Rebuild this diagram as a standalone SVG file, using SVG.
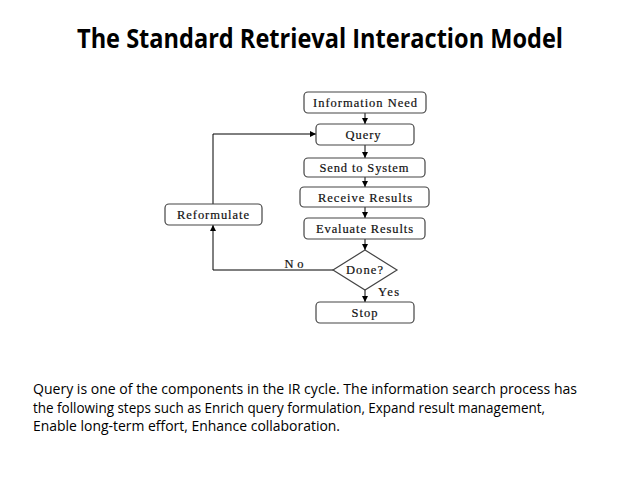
<svg xmlns="http://www.w3.org/2000/svg" width="638" height="478" viewBox="0 0 638 478">
<defs>
<marker id="ah" viewBox="0 0 10 10" refX="10" refY="5" markerWidth="6" markerHeight="6" orient="auto" markerUnits="userSpaceOnUse">
<path d="M0,0 L10,5 L0,10 z" fill="#000"/>
</marker>
<style>
.box{fill:#fff;stroke:#444;stroke-width:1.2}
.lbl{font-family:"Liberation Serif","DejaVu Serif",serif;font-size:12.5px;fill:#111;stroke:#111;stroke-width:0.2;text-anchor:middle}
.edge{fill:none;stroke:#000;stroke-width:1}
.title{font-family:"Open Sans","Liberation Sans",sans-serif;font-weight:bold;font-size:26px;fill:#000}
.body{font-family:"Open Sans","Liberation Sans",sans-serif;font-size:14.5px;fill:#000}
</style>
</defs>
<rect width="638" height="478" fill="#fff"/>
<text class="title" x="77" y="48" textLength="486" lengthAdjust="spacingAndGlyphs">The Standard Retrieval Interaction Model</text>

<g id="connectors">
<line class="edge" x1="365" y1="113" x2="365" y2="124" marker-end="url(#ah)"/>
<line class="edge" x1="365" y1="145" x2="365" y2="158" marker-end="url(#ah)"/>
<line class="edge" x1="365" y1="177" x2="365" y2="187" marker-end="url(#ah)"/>
<line class="edge" x1="365" y1="207" x2="365" y2="218" marker-end="url(#ah)"/>
<line class="edge" x1="365" y1="239" x2="365" y2="250" marker-end="url(#ah)"/>
<line class="edge" x1="365" y1="290" x2="365" y2="302" marker-end="url(#ah)"/>
<polyline class="edge" points="333,270 213,270 213,225" marker-end="url(#ah)"/>
<polyline class="edge" points="213,204 213,134 316,134" marker-end="url(#ah)"/>
<text class="lbl" x="294" y="268" textLength="19" lengthAdjust="spacing">No</text>
<text class="lbl" x="388.5" y="296" textLength="21" lengthAdjust="spacing">Yes</text>
</g>

<g id="info-need"><rect class="box" x="304" y="92" width="122" height="21" rx="4"/><text class="lbl" x="365" y="107" textLength="104" lengthAdjust="spacing">Information Need</text></g>
<g id="query"><rect class="box" x="316" y="124" width="98" height="21" rx="4"/><text class="lbl" x="363" y="139" textLength="35" lengthAdjust="spacing">Query</text></g>
<g id="send"><rect class="box" x="304" y="158" width="121" height="19" rx="4"/><text class="lbl" x="364" y="171.5" textLength="89" lengthAdjust="spacing">Send to System</text></g>
<g id="receive"><rect class="box" x="300" y="187" width="129" height="20" rx="4"/><text class="lbl" x="365" y="201.5" textLength="94" lengthAdjust="spacing">Receive Results</text></g>
<g id="evaluate"><rect class="box" x="304" y="218" width="121" height="21" rx="4"/><text class="lbl" x="364.5" y="233" textLength="97" lengthAdjust="spacing">Evaluate Results</text></g>
<g id="reformulate"><rect class="box" x="165" y="204" width="97" height="21" rx="4"/><text class="lbl" x="213" y="219" textLength="72" lengthAdjust="spacing">Reformulate</text></g>
<g id="done"><polygon class="box" points="365,250 397,270 365,290 333,270"/><text class="lbl" x="364.5" y="273.5" textLength="37" lengthAdjust="spacing">Done?</text></g>
<g id="stop"><rect class="box" x="316" y="302" width="98" height="21" rx="4"/><text class="lbl" x="364.5" y="317" textLength="26" lengthAdjust="spacing">Stop</text></g>

<text class="body" x="33" y="394" textLength="544" lengthAdjust="spacingAndGlyphs">Query is one of the components in the IR cycle. The information search process has</text>
<text class="body" x="33" y="412.5" textLength="512" lengthAdjust="spacingAndGlyphs">the following steps such as  Enrich query formulation, Expand result management,</text>
<text class="body" x="33" y="431" textLength="307" lengthAdjust="spacingAndGlyphs">Enable long-term effort, Enhance collaboration.</text>
</svg>
